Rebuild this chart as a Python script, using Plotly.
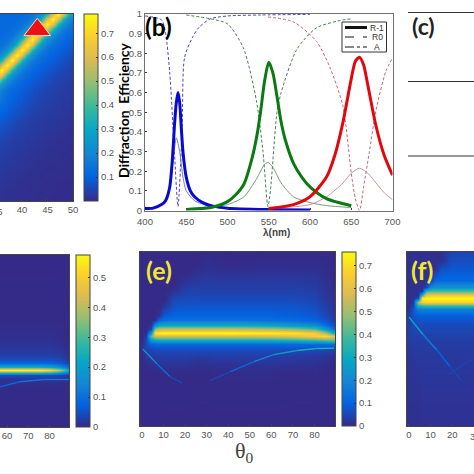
import plotly.graph_objects as go

W = H = 474

# ---------- panel (a): incidence angle columns, rows from the top of the map ----------
a_theta = [35, 36, 37, 38, 39, 40, 41, 42, 43, 44, 45, 46, 47, 48, 49, 50]
a_row = [0, 1, 2, 3, 4, 5, 6, 7, 8, 9, 10, 11, 12, 13, 14, 15, 18, 21, 25, 29, 33, 37]
a_z = [
 [.12,.12,.12,.12,.12,.12,.13,.14,.17,.23,.36,.60,.78,.60,.36,.23],
 [.12,.12,.12,.12,.12,.13,.14,.17,.23,.36,.60,.78,.60,.36,.23,.17],
 [.12,.12,.12,.12,.13,.14,.17,.23,.36,.60,.78,.60,.36,.23,.17,.14],
 [.12,.12,.12,.13,.14,.17,.23,.36,.60,.78,.60,.36,.23,.17,.14,.12],
 [.12,.12,.13,.14,.17,.23,.36,.60,.78,.60,.36,.23,.17,.14,.12,.105],
 [.12,.13,.14,.17,.23,.36,.60,.78,.60,.36,.23,.17,.14,.12,.105,.09],
 [.13,.14,.17,.23,.36,.60,.78,.60,.36,.23,.17,.14,.12,.105,.09,.08],
 [.14,.17,.23,.36,.60,.78,.60,.36,.23,.17,.14,.12,.105,.09,.08,.07],
 [.17,.23,.36,.60,.78,.60,.36,.23,.17,.14,.12,.105,.09,.08,.07,.06],
 [.23,.36,.60,.78,.60,.36,.23,.17,.14,.12,.105,.09,.08,.07,.06,.05],
 [.36,.60,.78,.60,.36,.23,.17,.14,.12,.105,.09,.08,.07,.06,.05,.045],
 [.60,.78,.60,.36,.23,.17,.14,.12,.105,.09,.08,.07,.06,.05,.045,.04],
 [.78,.60,.36,.23,.17,.14,.12,.105,.09,.08,.07,.06,.05,.045,.04,.035],
 [.60,.36,.23,.17,.14,.12,.105,.09,.08,.07,.06,.05,.045,.04,.035,.03],
 [.36,.23,.17,.14,.12,.105,.09,.08,.07,.06,.05,.045,.04,.035,.03,.03],
 [.23,.17,.14,.12,.105,.09,.08,.07,.06,.05,.045,.04,.035,.03,.03,.025],
 [.14,.12,.105,.09,.08,.07,.06,.05,.045,.04,.035,.03,.03,.025,.025,.02],
 [.09,.08,.07,.06,.05,.045,.04,.035,.03,.03,.025,.025,.02,.02,.015,.015],
 [.05,.045,.04,.035,.03,.03,.025,.025,.02,.02,.015,.015,.012,.012,.01,.01],
 [.03,.03,.025,.025,.02,.02,.015,.015,.012,.012,.01,.01,.01,.008,.008,.008],
 [.02,.02,.015,.015,.012,.012,.01,.01,.01,.008,.008,.008,.006,.006,.006,.006],
 [.012,.012,.01,.01,.01,.008,.008,.008,.006,.006,.006,.005,.005,.005,.005,.005],
]
a_marker_theta = [43]
a_marker_row = [3.1]
a_ticks = [40, 45, 50]
a_cb_ticks = [.1, .2, .3, .4, .5, .6, .7]

# ---------- panel (b) ----------
b_xticks = [400, 450, 500, 550, 600, 650, 700]
b_yticks = [0, .1, .2, .3, .4, .5, .6, .7, .8, .9, 1]
blue_x = [400, 410, 420, 425, 430, 433, 436, 438, 440, 442, 444, 446, 450, 455, 460, 470, 480, 500, 550, 600]
blue_r1 = [.01, .012, .03, .05, .12, .25, .45, .55, .6, .55, .42, .3, .17, .1, .07, .04, .025, .012, .005, .003]
blue_r0_x = [400, 420, 425, 430, 435, 440, 445, 448, 458, 465, 479, 500, 540, 600]
blue_r0 = [.99, .97, .9, .7, .35, .02, .42, .78, .885, .93, .975, .99, .995, .998]
blue_a_x = [400, 420, 430, 434, 438, 442, 446, 450, 460, 480, 500, 600]
blue_a = [.01, .03, .12, .25, .37, .3, .17, .1, .05, .02, .01, .002]
green_x = [450, 480, 500, 510, 520, 530, 536, 540, 545, 550, 555, 560, 565, 570, 580, 590, 600, 620, 650]
green_r1 = [.005, .015, .045, .08, .135, .27, .39, .5, .66, .755, .70, .58, .45, .36, .24, .17, .12, .06, .024]
green_r0_x = [450, 480, 500, 519, 535, 543, 549, 552, 560, 565, 584, 608, 640, 650]
green_r0 = [.995, .975, .95, .83, .56, .3, .02, .1, .5, .6, .82, .93, .97, .975]
green_a_x = [450, 480, 500, 520, 535, 545, 549, 555, 565, 580, 600, 620, 650]
green_a = [.01, .02, .03, .07, .16, .235, .245, .22, .14, .07, .04, .025, .015]
red_x = [550, 580, 600, 620, 630, 640, 650, 655, 660, 665, 670, 680, 690, 700]
red_r1 = [.01, .03, .07, .17, .28, .45, .67, .76, .78, .74, .64, .43, .28, .18]
red_r0_x = [549, 580, 608, 624, 640, 650, 655, 660, 665, 672, 680, 692, 700]
red_r0 = [.985, .96, .86, .73, .53, .19, .06, 0, .12, .3, .51, .71, .775]
red_a_x = [550, 600, 620, 640, 650, 660, 670, 680, 690, 700]
red_a = [.01, .03, .07, .14, .19, .215, .19, .14, .09, .055]
legend_names = ["R-1", "R0", "A"]

# ---------- panel (d) ----------
d_theta = [56, 60, 65, 70, 75, 80, 85, 89.5]
d_row = [0, .4, .5, .53, .56, .59, .61, .63, .65, .668, .685, .70, .72, .76, 1]
d_z = [
 [0, 0, 0, 0, 0, 0, 0, 0],
 [.002, .002, .002, .002, .002, .002, .002, 0],
 [.01, .01, .01, .01, .01, .01, .005, 0],
 [.015, .015, .015, .015, .015, .015, .01, 0],
 [.02, .02, .02, .02, .02, .02, .015, .005],
 [.03, .03, .03, .03, .03, .03, .025, .01],
 [.05, .05, .05, .05, .05, .05, .04, .015],
 [.08, .08, .08, .08, .08, .08, .065, .03],
 [.24, .24, .24, .24, .24, .22, .17, .08],
 [.57, .57, .57, .57, .56, .52, .40, .18],
 [.22, .22, .22, .22, .22, .20, .15, .08],
 [.045, .045, .045, .045, .045, .045, .04, .02],
 [.01, .01, .01, .01, .01, .01, .01, .005],
 [.002, .002, .002, .002, .002, .002, .002, 0],
 [0, 0, 0, 0, 0, 0, 0, 0],
]
d_line_theta = [56.7, 66, 77, 89]
d_line_row = [.767, .737, .724, .724]
d_line_value = [.08, .10, .13, .12]
d_ticks = [60, 70, 80]
d_cb_ticks = [0, .1, .2, .3, .4, .5]

# ---------- panel (e) ----------
e_theta = [0, 2, 4, 6, 8, 10, 15, 20, 25, 30, 35, 40, 50, 60, 70, 80, 85, 89.5]
e_row = [0, .08, .12, .2, .27, .31, .36, .39, .42, .445, .465, .485, .51, .53, .56, .6, .65, .7, 1]
e_z = [
 [0, 0, 0, 0, 0, 0, 0, 0, 0, 0, 0, 0, 0, 0, 0, 0, 0, 0],
 [0, 0, 0, 0, 0, 0, 0, 0, 0, .012, .006, .004, .004, .006, .006, .006, .004, 0],
 [0, 0, 0, 0, 0, 0, 0, 0, .012, .018, .015, .015, .015, .018, .018, .015, .008, 0],
 [0, 0, 0, 0, 0, 0, 0, .03, .035, .035, .035, .035, .035, .035, .035, .03, .015, .005],
 [0, 0, 0, 0, 0, 0, .05, .055, .055, .055, .055, .055, .055, .055, .055, .045, .025, .01],
 [0, 0, 0, 0, 0, .02, .07, .075, .075, .075, .075, .075, .075, .075, .075, .06, .035, .015],
 [0, 0, 0, 0, .015, .08, .10, .10, .10, .10, .10, .10, .10, .10, .09, .08, .05, .02],
 [0, 0, 0, .01, .10, .13, .14, .14, .14, .14, .14, .14, .14, .13, .12, .10, .07, .03],
 [0, 0, .01, .20, .28, .29, .29, .29, .29, .29, .29, .29, .29, .27, .24, .20, .13, .05],
 [0, 0, .04, .48, .54, .55, .55, .55, .55, .55, .55, .55, .54, .52, .48, .40, .26, .11],
 [0, .01, .25, .72, .75, .76, .76, .76, .76, .76, .76, .76, .75, .74, .72, .66, .52, .30],
 [0, .03, .42, .55, .56, .56, .56, .56, .56, .56, .56, .56, .56, .57, .60, .66, .70, .60],
 [.005, .05, .19, .23, .25, .25, .25, .25, .25, .25, .25, .25, .25, .25, .27, .30, .33, .36],
 [.01, .06, .10, .11, .115, .115, .115, .115, .115, .115, .115, .115, .115, .115, .115, .12, .12, .12],
 [.01, .04, .05, .06, .06, .06, .06, .06, .06, .06, .06, .06, .06, .06, .06, .055, .05, .04],
 [.005, .02, .03, .03, .035, .035, .035, .035, .03, .03, .035, .035, .035, .035, .03, .025, .02, .01],
 [0, .005, .01, .01, .015, .015, .015, .012, .01, .01, .012, .012, .015, .015, .012, .01, .005, 0],
 [0, 0, 0, 0, 0, .002, .003, .003, .002, .002, .003, .003, .003, .003, .002, .002, 0, 0],
 [0, 0, 0, 0, 0, 0, 0, 0, 0, 0, 0, 0, 0, 0, 0, 0, 0, 0],
]
e_line1_theta = [0.4, 7, 13, 18.6]
e_line1_row = [.558, .643, .716, .754]
e_line1_value = [.30, .18, .08, .03]
e_line2_theta = [31.6, 41, 52, 61, 72, 81, 89]
e_line2_row = [.739, .687, .63, .59, .566, .555, .553]
e_line2_value = [.03, .07, .16, .22, .30, .34, .32]
e_ticks = [0, 10, 20, 30, 40, 50, 60, 70, 80]
e_cb_ticks = [0, .1, .2, .3, .4, .5, .6, .7]

# ---------- panel (f) ----------
f_theta = [0, 2, 4, 6, 8, 10, 12, 15, 20, 25, 31]
f_row = [0, .05, .1, .16, .2, .225, .245, .265, .285, .305, .33, .37, .42, .5, .6, .75, 1]
f_z = [
 [.01, .01, .01, .01, .01, .01, .01, .01, .05, .05, .05],
 [.01, .01, .01, .01, .01, .01, .01, .012, .06, .06, .06],
 [.01, .01, .01, .01, .01, .01, .012, .07, .08, .08, .08],
 [.01, .01, .01, .01, .012, .03, .10, .11, .11, .11, .11],
 [.01, .01, .01, .012, .04, .20, .22, .22, .22, .22, .22],
 [.01, .01, .01, .03, .36, .40, .40, .40, .40, .40, .40],
 [.01, .01, .015, .35, .62, .64, .64, .64, .64, .64, .64],
 [.01, .015, .06, .72, .75, .76, .76, .76, .76, .76, .76],
 [.01, .02, .50, .66, .68, .68, .68, .68, .68, .68, .68],
 [.01, .03, .36, .40, .41, .41, .41, .41, .41, .41, .41],
 [.015, .08, .16, .17, .17, .17, .17, .17, .17, .17, .17],
 [.03, .07, .08, .09, .09, .09, .09, .09, .09, .09, .09],
 [.035, .05, .055, .055, .055, .055, .055, .055, .055, .055, .055],
 [.03, .035, .035, .035, .035, .035, .035, .035, .035, .035, .035],
 [.02, .02, .025, .025, .025, .025, .025, .025, .025, .025, .025],
 [.015, .015, .015, .02, .02, .02, .02, .02, .02, .02, .02],
 [.01, .01, .01, .012, .012, .012, .012, .012, .012, .012, .012],
]
f_line1_theta = [0, 6.6, 12.8, 19, 24]
f_line1_row = [.374, .476, .562, .658, .735]
f_line1_value = [.32, .20, .13, .07, .03]
f_line2_theta = [18, 30]
f_line2_row = [.706, .61]
f_line2_value = [.04, .06]
f_ticks = [0, 10, 20]

# ---------- styling ----------
PARULA = [[0, "#352A87"], [.13, "#0363E1"], [.25, "#1485D4"], [.38, "#06A7C6"],
          [.5, "#38B99E"], [.63, "#92BF73"], [.75, "#D9BA56"], [.88, "#FCCE2E"], [1, "#F9FB0E"]]
TICKFONT = dict(family="Liberation Sans", size=9.5, color="#555555")
AXLINE = "#444444"


def hex_rgb(c):
    return tuple(int(c[i:i + 2], 16) for i in (1, 3, 5))


def parula_at(t):
    t = max(0, min(1, t))
    for (p0, c0), (p1, c1) in zip(PARULA, PARULA[1:]):
        if t <= p1:
            f = (t - p0) / (p1 - p0)
            a, b = hex_rgb(c0), hex_rgb(c1)
            return "rgb(%d,%d,%d)" % tuple(a[i] + (b[i] - a[i]) * f for i in range(3))
    return PARULA[-1][1]


def dom_x(x0, x1):
    return [x0 / W, x1 / W]


def dom_y(y0, y1):
    return [1 - y1 / H, 1 - y0 / H]


fig = go.Figure()
layout = {}


def add_axes(n, px, xrange, yrange, xticks=None, yticks=None, frame=AXLINE, frame_w=1, standoff=0):
    sx = "xaxis" if n == 1 else f"xaxis{n}"
    sy = "yaxis" if n == 1 else f"yaxis{n}"
    ay = "y" if n == 1 else f"y{n}"
    ax = "x" if n == 1 else f"x{n}"
    layout[sx] = dict(domain=dom_x(px[0], px[1]), range=xrange, anchor=ay, tickvals=xticks,
                      ticks="inside", ticklen=2, tickcolor=AXLINE, showgrid=False, zeroline=False,
                      showline=True, linecolor=frame, linewidth=frame_w, mirror=True, tickfont=TICKFONT,
                      ticklabelstandoff=standoff)
    layout[sy] = dict(domain=dom_y(px[2], px[3]), range=yrange, anchor=ax, tickvals=yticks,
                      ticks="inside" if yticks else "", ticklen=2, tickcolor=AXLINE, showgrid=False,
                      zeroline=False, showline=True, linecolor=frame, linewidth=frame_w, mirror=True,
                      showticklabels=bool(yticks), tickfont=TICKFONT)
    return ax, ay


def heat(ax, ay, x, y, z, zmax, cb=None):
    kw = dict(x=x, y=y, z=z, xaxis=ax, yaxis=ay, colorscale=PARULA, zmin=0, zmax=zmax,
              zsmooth="best", hoverinfo="skip")
    if cb:
        kw["showscale"] = True
        kw["colorbar"] = dict(x=cb["x0"] / W, xanchor="left", xpad=0, ypad=0,
                              y=1 - cb["y1"] / H, yanchor="bottom", len=(cb["y1"] - cb["y0"]) / H,
                              lenmode="fraction", thickness=cb["x1"] - cb["x0"], thicknessmode="pixels",
                              tickvals=cb["ticks"], ticks="inside", ticklen=2, tickcolor="#333333",
                              outlinecolor=AXLINE, outlinewidth=1, tickfont=TICKFONT,
                              tickformat="~g")
    else:
        kw["showscale"] = False
    fig.add_trace(go.Heatmap(**kw))


def ridge(ax, ay, xs, ys, vals, zmax, width=1.4):
    for i in range(len(xs) - 1):
        v = (vals[i] + vals[i + 1]) / 2
        fig.add_trace(go.Scatter(x=xs[i:i + 2], y=ys[i:i + 2], xaxis=ax, yaxis=ay, mode="lines",
                                 line=dict(color=parula_at(v / zmax), width=width),
                                 showlegend=False, hoverinfo="skip"))


# (a)
ax, ay = add_axes(1, (0, 73, 14, 201), [35.7, 50], [36.7, 0], a_ticks)
heat(ax, ay, a_theta, a_row, a_z, .78, dict(x0=84, x1=98, y0=14, y1=201, ticks=a_cb_ticks))
fig.add_trace(go.Scatter(x=a_marker_theta, y=a_marker_row, xaxis=ax, yaxis=ay, mode="markers",
                         marker=dict(symbol="triangle-up", size=23, color="#EE1111",
                                     line=dict(color="#F4D6D6", width=1)),
                         showlegend=False, hoverinfo="skip"))

# (b)
ax, ay = add_axes(2, (145, 392.5, 14, 210.5), [400, 700], [0, 1], b_xticks, b_yticks,
                  frame="#707070", frame_w=1.2, standoff=2)
for xs, ys, c in [(blue_r0_x, blue_r0, "#4848B8"), (green_r0_x, green_r0, "#4E7A58"), (red_r0_x, red_r0, "#C06A7A")]:
    fig.add_trace(go.Scatter(x=xs, y=ys, xaxis=ax, yaxis=ay, mode="lines", showlegend=False,
                             line=dict(color=c, width=1, dash="3px,2px", shape="spline", smoothing=.7), hoverinfo="skip"))
for xs, ys, c in [(blue_a_x, blue_a, "#6A6AC8"), (green_a_x, green_a, "#6E8E6E"), (red_a_x, red_a, "#C08A90")]:
    fig.add_trace(go.Scatter(x=xs, y=ys, xaxis=ax, yaxis=ay, mode="lines", showlegend=False,
                             line=dict(color=c, width=.9, shape="spline", smoothing=.7), hoverinfo="skip"))
for xs, ys, c in [(blue_x, blue_r1, "#0A0ACD"), (green_x, green_r1, "#0B7A12"), (red_x, red_r1, "#E0080E")]:
    fig.add_trace(go.Scatter(x=xs, y=ys, xaxis=ax, yaxis=ay, mode="lines", showlegend=False,
                             line=dict(color=c, width=3, shape="spline", smoothing=.7), hoverinfo="skip"))

# (d)
ax, ay = add_axes(3, (0, 69, 255, 427), [56.7, 89.1], [1, 0], d_ticks)
heat(ax, ay, d_theta, d_row, d_z, .575, dict(x0=75.5, x1=89, y0=255, y1=427, ticks=d_cb_ticks))
ridge(ax, ay, d_line_theta, d_line_row, d_line_value, .575)

# (e)
ax, ay = add_axes(4, (140, 335, 252, 426), [-0.9, 89.5], [1, 0], e_ticks)
heat(ax, ay, e_theta, e_row, e_z, .76, dict(x0=342, x1=355.5, y0=252, y1=426, ticks=e_cb_ticks))
ridge(ax, ay, e_line1_theta, e_line1_row, e_line1_value, .76)
ridge(ax, ay, e_line2_theta, e_line2_row, e_line2_value, .76)

# (f)
ax, ay = add_axes(5, (407, 474, 252, 426), [-0.9, 30.1], [1, 0], f_ticks)
heat(ax, ay, f_theta, f_row, f_z, .76)
ridge(ax, ay, f_line1_theta, f_line1_row, f_line1_value, .76, 1.6)
ridge(ax, ay, f_line2_theta, f_line2_row, f_line2_value, .76, 1.2)


def note(text, x, y, size, color="#000000", bold=False, family="Lato", **kw):
    t = f"<b>{text}</b>" if bold else text
    return dict(text=t, x=x / W, y=1 - y / H, xref="paper", yref="paper", showarrow=False,
                xanchor="center", yanchor="middle", font=dict(family=family, size=size, color=color), **kw)


annotations = [
    note("(b)", 158.5, 26, 24.5, bold=True),
    note("(c)", 423.5, 26, 23, color="#222222", bold=True),
    note("(e)", 159, 270, 25, color="#F4E82E", bold=True),
    note("(f)", 422, 270, 25, color="#F4E82E", bold=True),
    note("Diffraction  Efficiency", 123, 110, 14, bold=True, textangle=-90),
    note("λ(nm)", 276, 232, 10, color="#444444", bold=True, family="Liberation Sans"),
    note("θ<sub>0</sub>", 244, 452, 22, color="#444444", family="Liberation Serif"),
    note("35", -3, 211, 9.5, color="#555555", family="Liberation Sans"),
    note("30", 475, 436, 9.5, color="#555555", family="Liberation Sans"),
]

shapes = [dict(type="line", xref="paper", yref="paper", x0=408 / W, x1=1, y0=1 - y / H, y1=1 - y / H,
               line=dict(color="#333333", width=1.2)) for y in (12.5, 81.5, 156)]

# hand-placed legend box for panel (b): three black samples with their names
shapes.append(dict(type="rect", xref="paper", yref="paper", x0=342 / W, x1=386.5 / W, y0=1 - 52 / H, y1=1 - 22 / H,
                   fillcolor="white", line=dict(color="#333333", width=1)))
for name, lw, d, yy in zip(legend_names, [3, 1, 1], ["solid", "dash", "dashdot"], (27.5, 37, 47)):
    shapes.append(dict(type="line", xref="paper", yref="paper", x0=345 / W, x1=367 / W, y0=1 - yy / H, y1=1 - yy / H,
                       line=dict(color="#111111", width=lw, dash=d)))
    annotations.append(note(name, 377, yy + .5, 8.5, color="#333333", family="Liberation Sans"))

fig.update_layout(
    width=W, height=H, margin=dict(l=0, r=0, t=0, b=0, autoexpand=False), paper_bgcolor="white", plot_bgcolor="white",
    annotations=annotations, shapes=shapes, showlegend=False,
    **layout,
)
fig.write_html("out.html", config=dict(displayModeBar=False),
               post_script="document.body.style.margin='0';document.body.style.overflow='hidden';")
